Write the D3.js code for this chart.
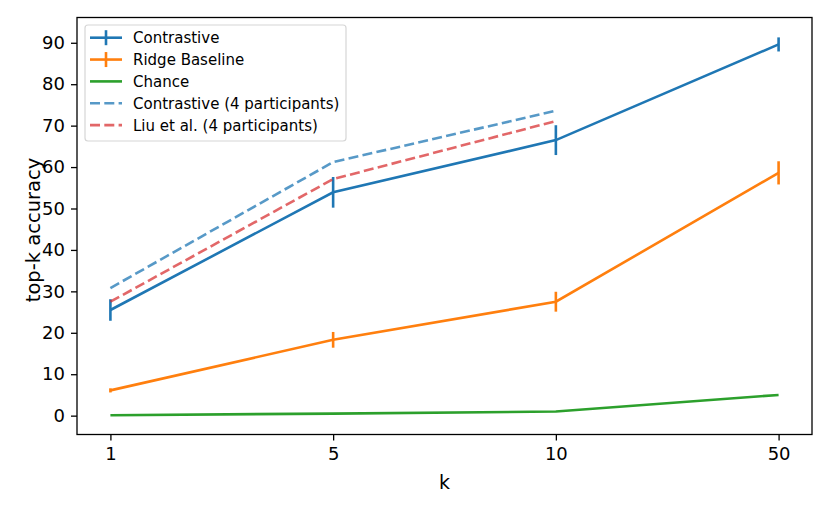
<!DOCTYPE html>
<html>
<head>
<meta charset="utf-8">
<script src="https://cdn.jsdelivr.net/npm/d3@7"></script>
<style>
  body { margin: 0; background: #fff; }
  text { font-family: "DejaVu Sans", sans-serif; }
</style>
</head>
<body>
<svg id="chart" width="828" height="509"></svg>
<script>
// data
const kLabels = ["1", "5", "10", "50"]
const contrastive = [25.5, 53.9, 66.5, 89.6]
const contrastiveErr = [2.6, 3.7, 3.6, 1.7]
const ridge = [6.1, 18.3, 27.5, 58.6]
const ridgeErr = [0.5, 1.9, 2.4, 2.8]
const chance = [0.1, 0.5, 1.0, 5.0]
const contrastive4 = [30.8, 61.2, 73.6]
const liu4 = [27.5, 57.1, 71.1]
const yTicks = [0, 10, 20, 30, 40, 50, 60, 70, 80, 90]

const svg = d3.select("#chart")
const mLeft = 77, mRight = 812, mTop = 17.5, mBottom = 434.5

// index axis with matplotlib-like 5% margins
const pad = (mRight - mLeft) * 0.15 / 3.3
const x = d3.scalePoint().domain(kLabels).range([mLeft + pad, mRight - pad]).padding(0)
const y = d3.scaleLinear().domain([-4.55, 96.1]).range([mBottom, mTop])

const C0 = "#1f77b4", C1 = "#ff7f0e", C2 = "#2ca02c", C3 = "#d62728"
const lw = 2.6, dash = "10,4.3"

const g = svg.append("g")

// axes
g.append("g")
  .attr("transform", "translate(0," + mBottom + ")")
  .call(d3.axisBottom(x).tickSize(6).tickPadding(7))
  .call(a => a.select(".domain").remove())
g.append("g")
  .attr("transform", "translate(" + mLeft + ",0)")
  .call(d3.axisLeft(y).tickValues(yTicks).tickSize(6).tickPadding(6))
  .call(a => a.select(".domain").remove())
g.selectAll(".tick line").attr("stroke", "#000").attr("stroke-width", 1.3)
g.selectAll(".tick text").attr("font-size", "18px").attr("fill", "#000")
  .style("font-family", "DejaVu Sans, sans-serif")

g.append("rect")
  .attr("x", mLeft).attr("y", mTop)
  .attr("width", mRight - mLeft).attr("height", mBottom - mTop)
  .attr("fill", "none").attr("stroke", "#000").attr("stroke-width", 1.3)

const line = d3.line().x((d, i) => x(kLabels[i])).y(d => y(d))

function series(vals, color, opts) {
  opts = opts || {}
  g.append("path")
    .datum(vals)
    .attr("d", line)
    .attr("fill", "none")
    .attr("stroke", color)
    .attr("stroke-width", lw)
    .attr("stroke-opacity", opts.opacity || 1)
    .attr("stroke-dasharray", opts.dash || null)
  if (opts.err) {
    g.selectAll(null)
      .data(vals)
      .enter()
      .append("line")
      .attr("x1", (d, i) => x(kLabels[i]))
      .attr("x2", (d, i) => x(kLabels[i]))
      .attr("y1", (d, i) => y(d - opts.err[i]))
      .attr("y2", (d, i) => y(d + opts.err[i]))
      .attr("stroke", color)
      .attr("stroke-width", lw)
  }
}

series(chance, C2)
series(ridge, C1, { err: ridgeErr })
series(contrastive, C0, { err: contrastiveErr })
series(contrastive4, C0, { dash: dash, opacity: 0.75 })
series(liu4, C3, { dash: dash, opacity: 0.7 })

// labels
svg.append("text")
  .attr("x", (mLeft + mRight) / 2).attr("y", 489)
  .attr("text-anchor", "middle").attr("font-size", "19px")
  .text("k")
svg.append("text")
  .attr("transform", "translate(39.5,230) rotate(-90)")
  .attr("text-anchor", "middle").attr("font-size", "19.5px")
  .text("top-k accuracy")

// legend
const legendItems = [
  { label: "Contrastive", color: C0, err: true },
  { label: "Ridge Baseline", color: C1, err: true },
  { label: "Chance", color: C2 },
  { label: "Contrastive (4 participants)", color: C0, dash: dash, opacity: 0.75 },
  { label: "Liu et al. (4 participants)", color: C3, dash: dash, opacity: 0.7 }
]
const lg = svg.append("g")
lg.append("rect")
  .attr("x", 85).attr("y", 25).attr("width", 261).attr("height", 116)
  .attr("rx", 3).attr("fill", "#fff").attr("fill-opacity", 0.8)
  .attr("stroke", "#d6d6d6").attr("stroke-width", 1.2)
legendItems.forEach((d, i) => {
  const yy = 37.7 + i * 21.85
  lg.append("line")
    .attr("x1", 90).attr("x2", 122).attr("y1", yy).attr("y2", yy)
    .attr("stroke", d.color).attr("stroke-width", lw)
    .attr("stroke-opacity", d.opacity || 1)
    .attr("stroke-dasharray", d.dash || null)
  if (d.err) {
    lg.append("line")
      .attr("x1", 106).attr("x2", 106).attr("y1", yy - 7.5).attr("y2", yy + 7.5)
      .attr("stroke", d.color).attr("stroke-width", lw)
  }
  lg.append("text")
    .attr("x", 133).attr("y", yy + 5.4)
    .attr("font-size", "15px")
    .text(d.label)
})
</script>
</body>
</html>
